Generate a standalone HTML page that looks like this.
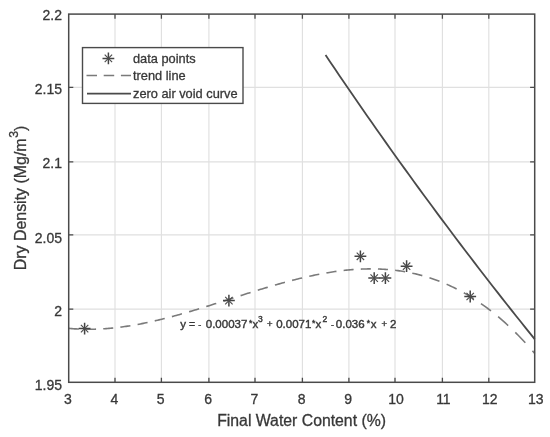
<!DOCTYPE html>
<html><head><meta charset="utf-8"><style>
html,body{margin:0;padding:0;background:#fff;}
svg{display:block;}
text{font-family:"Liberation Sans",sans-serif;fill:#383838;stroke:#383838;stroke-width:0.3px;}
text.eqt{stroke-width:0.4px;}
.m{stroke:#444;stroke-width:1.5;fill:none;}
.md{stroke:#4d4d4d;stroke-width:1.15;fill:none;}
</style></head><body>
<svg width="550" height="437" viewBox="0 0 550 437">
<rect width="550" height="437" fill="#fff"/>
<path d="M115.00 14.10V382.30M161.40 14.10V382.30M208.90 14.10V382.30M255.00 14.10V382.30M302.40 14.10V382.30M348.90 14.10V382.30M395.00 14.10V382.30M442.40 14.10V382.30M488.80 14.10V382.30M68.70 87.40H534.70M68.70 161.80H534.70M68.70 234.80H534.70M68.70 309.10H534.70" stroke="#e0e0e0" stroke-width="1.15" fill="none"/>
<path d="M68.90 328.37 L70.33 328.50 L71.76 328.62 L73.19 328.73 L74.61 328.83 L76.04 328.92 L77.47 329.00 L78.90 329.07M86.07 329.28 L87.50 329.29 L88.93 329.29 L90.36 329.28 L91.78 329.27 L93.21 329.24 L94.64 329.21 L96.07 329.17M103.24 328.82 L104.67 328.73 L106.10 328.62 L107.53 328.51 L108.95 328.39 L110.38 328.27 L111.81 328.13 L113.24 327.99M120.41 327.16 L121.84 326.98 L123.27 326.78 L124.70 326.58 L126.12 326.37 L127.55 326.16 L128.98 325.94 L130.41 325.71M137.58 324.47 L139.01 324.20 L140.44 323.93 L141.87 323.65 L143.29 323.37 L144.72 323.08 L146.15 322.78 L147.58 322.48M154.75 320.90 L156.18 320.56 L157.61 320.23 L159.04 319.89 L160.46 319.54 L161.89 319.19 L163.32 318.84 L164.75 318.48M171.92 316.61 L173.35 316.23 L174.78 315.84 L176.21 315.45 L177.63 315.06 L179.06 314.66 L180.49 314.26 L181.92 313.85M189.09 311.78 L190.52 311.36 L191.95 310.93 L193.38 310.51 L194.80 310.08 L196.23 309.65 L197.66 309.21 L199.09 308.78M206.26 306.56 L207.69 306.12 L209.12 305.67 L210.55 305.22 L211.97 304.77 L213.40 304.32 L214.83 303.86 L216.26 303.41M223.43 301.12 L224.86 300.66 L226.29 300.20 L227.72 299.75 L229.14 299.29 L230.57 298.83 L232.00 298.37 L233.43 297.91M240.60 295.62 L242.03 295.16 L243.46 294.71 L244.89 294.26 L246.31 293.80 L247.74 293.35 L249.17 292.90 L250.60 292.45M257.77 290.22 L259.20 289.78 L260.63 289.34 L262.06 288.91 L263.48 288.47 L264.91 288.04 L266.34 287.61 L267.77 287.19M274.94 285.09 L276.37 284.68 L277.80 284.27 L279.23 283.87 L280.65 283.47 L282.08 283.07 L283.51 282.68 L284.94 282.28M292.11 280.38 L293.54 280.02 L294.97 279.65 L296.40 279.30 L297.82 278.94 L299.25 278.59 L300.68 278.25 L302.11 277.91M309.28 276.27 L310.71 275.96 L312.14 275.66 L313.57 275.36 L314.99 275.06 L316.42 274.77 L317.85 274.49 L319.28 274.21M326.45 272.91 L327.88 272.67 L329.31 272.44 L330.74 272.21 L332.16 271.99 L333.59 271.78 L335.02 271.57 L336.45 271.37M343.62 270.48 L345.05 270.32 L346.48 270.17 L347.91 270.03 L349.33 269.90 L350.76 269.77 L352.19 269.65 L353.62 269.54M360.79 269.12 L362.22 269.06 L363.65 269.01 L365.08 268.97 L366.50 268.93 L367.93 268.91 L369.36 268.89 L370.79 268.89M377.96 269.00 L379.39 269.06 L380.82 269.12 L382.25 269.19 L383.67 269.27 L385.10 269.36 L386.53 269.46 L387.96 269.57M395.13 270.30 L396.56 270.47 L397.99 270.66 L399.42 270.86 L400.84 271.07 L402.27 271.29 L403.70 271.52 L405.13 271.76M412.30 273.16 L413.73 273.47 L415.16 273.80 L416.59 274.14 L418.01 274.49 L419.44 274.85 L420.87 275.23 L422.30 275.62M429.47 277.76 L430.90 278.22 L432.33 278.70 L433.76 279.19 L435.18 279.70 L436.61 280.22 L438.04 280.75 L439.47 281.30M446.64 284.25 L448.07 284.88 L449.50 285.52 L450.93 286.18 L452.35 286.86 L453.78 287.55 L455.21 288.25 L456.64 288.97M463.81 292.80 L465.24 293.61 L466.67 294.43 L468.10 295.27 L469.52 296.13 L470.95 297.00 L472.38 297.89 L473.81 298.79M480.98 303.57 L482.41 304.57 L483.84 305.59 L485.27 306.63 L486.69 307.68 L488.12 308.75 L489.55 309.83 L490.98 310.94M498.15 316.73 L499.58 317.94 L501.01 319.16 L502.44 320.41 L503.86 321.67 L505.29 322.95 L506.72 324.24 L508.15 325.56M515.32 332.44 L516.75 333.86 L518.18 335.31 L519.61 336.77 L521.03 338.26 L522.46 339.76 L523.89 341.28 L525.32 342.82M532.49 350.85 L532.81 351.22 L533.12 351.59 L533.44 351.95 L533.75 352.32 L534.07 352.69 L534.38 353.06 L534.70 353.43" fill="none" stroke="#7a7a7a" stroke-width="1.6"/>
<polyline points="325.56,54.99 330.21,61.90 334.85,68.79 339.50,75.65 344.15,82.47 348.80,89.27 353.44,96.04 358.09,102.78 362.74,109.49 367.39,116.17 372.03,122.83 376.68,129.45 381.33,136.05 385.98,142.62 390.63,149.16 395.27,155.68 399.92,162.17 404.57,168.63 409.22,175.06 413.86,181.47 418.51,187.85 423.16,194.20 427.81,200.53 432.45,206.83 437.10,213.11 441.75,219.36 446.40,225.58 451.04,231.78 455.69,237.96 460.34,244.11 464.99,250.23 469.63,256.33 474.28,262.40 478.93,268.45 483.58,274.48 488.22,280.48 492.87,286.45 497.52,292.40 502.17,298.33 506.81,304.24 511.46,310.12 516.11,315.98 520.76,321.81 525.40,327.62 530.05,333.41 534.70,339.18" fill="none" stroke="#4a4a4a" stroke-width="1.8"/>
<path class="m" d="M78.70 328.60H90.50M84.60 322.70V334.50"/><path class="md" d="M80.90 324.90L88.30 332.30M80.90 332.30L88.30 324.90"/><path class="m" d="M223.00 300.60H234.80M228.90 294.70V306.50"/><path class="md" d="M225.20 296.90L232.60 304.30M225.20 304.30L232.60 296.90"/><path class="m" d="M354.50 256.30H366.30M360.40 250.40V262.20"/><path class="md" d="M356.70 252.60L364.10 260.00M356.70 260.00L364.10 252.60"/><path class="m" d="M368.30 278.10H380.10M374.20 272.20V284.00"/><path class="md" d="M370.50 274.40L377.90 281.80M370.50 281.80L377.90 274.40"/><path class="m" d="M379.50 278.10H391.30M385.40 272.20V284.00"/><path class="md" d="M381.70 274.40L389.10 281.80M381.70 281.80L389.10 274.40"/><path class="m" d="M400.70 266.20H412.50M406.60 260.30V272.10"/><path class="md" d="M402.90 262.50L410.30 269.90M402.90 269.90L410.30 262.50"/><path class="m" d="M464.30 296.50H476.10M470.20 290.60V302.40"/><path class="md" d="M466.50 292.80L473.90 300.20M466.50 300.20L473.90 292.80"/>
<path d="M115.00 382.30v-4.6M115.00 14.10v4.6M161.40 382.30v-4.6M161.40 14.10v4.6M208.90 382.30v-4.6M208.90 14.10v4.6M255.00 382.30v-4.6M255.00 14.10v4.6M302.40 382.30v-4.6M302.40 14.10v4.6M348.90 382.30v-4.6M348.90 14.10v4.6M395.00 382.30v-4.6M395.00 14.10v4.6M442.40 382.30v-4.6M442.40 14.10v4.6M488.80 382.30v-4.6M488.80 14.10v4.6M68.70 87.40h4.6M534.70 87.40h-4.6M68.70 161.80h4.6M534.70 161.80h-4.6M68.70 234.80h4.6M534.70 234.80h-4.6M68.70 309.10h4.6M534.70 309.10h-4.6" stroke="#4a4a4a" stroke-width="1.3" fill="none"/>
<rect x="68.70" y="14.10" width="466.00" height="368.20" fill="none" stroke="#4a4a4a" stroke-width="1.5"/>
<g font-size="14" text-anchor="middle"><text x="68.00" y="404">3</text><text x="114.30" y="404">4</text><text x="160.70" y="404">5</text><text x="208.20" y="404">6</text><text x="254.30" y="404">7</text><text x="301.70" y="404">8</text><text x="348.20" y="404">9</text><text x="396.00" y="404">10</text><text x="443.40" y="404">11</text><text x="489.80" y="404">12</text><text x="535.70" y="404">13</text></g>
<g font-size="14" text-anchor="end"><text x="62.0" y="19.60">2.2</text><text x="62.0" y="94.20">2.15</text><text x="62.0" y="168.40">2.1</text><text x="62.0" y="242.50">2.05</text><text x="62.0" y="315.90">2</text><text x="62.0" y="389.50">1.95</text></g>
<text x="301.6" y="425.7" font-size="15.8" text-anchor="middle">Final Water Content (%)</text>
<text transform="translate(25.9,270.3) rotate(-90)" font-size="15.95">Dry Density (Mg/m<tspan dy="-7.7" dx="0.5" font-size="12.3">3</tspan><tspan dy="7.7">)</tspan></text>
<rect x="82.5" y="47.6" width="160.5" height="55.8" fill="#fff" stroke="#4a4a4a" stroke-width="1.4"/>
<path class="m" d="M102.50 58.40H114.30M108.40 52.50V64.30"/><path class="md" d="M104.70 54.70L112.10 62.10M104.70 62.10L112.10 54.70"/>
<path d="M86.5 75.5H97M103.7 75.5H114.2M120.9 75.5H131" stroke="#7a7a7a" stroke-width="1.6"/>
<path d="M87 93.6H131" stroke="#4a4a4a" stroke-width="1.8"/>
<g font-size="12.8"><text x="133" y="62.7">data points</text><text x="133" y="80.0">trend line</text><text x="133" y="98.4">zero air void curve</text></g>
<text class="eqt"><tspan x="180.17" y="327.80" font-size="11.5">y</tspan><tspan x="189.09" y="328.30" font-size="10.5">=</tspan><tspan x="198.20" y="328.20" font-size="9">-</tspan><tspan x="205.75" y="327.80" font-size="11.5">0.00037</tspan><tspan x="248.96" y="326.10" font-size="8.5">*</tspan><tspan x="252.47" y="327.80" font-size="11.5">x</tspan><tspan x="258.08" y="321.80" font-size="8.5">3</tspan><tspan x="266.94" y="327.40" font-size="9.5">+</tspan><tspan x="276.15" y="327.80" font-size="11.5">0.0071</tspan><tspan x="311.96" y="326.10" font-size="8.5">*</tspan><tspan x="315.47" y="327.80" font-size="11.5">x</tspan><tspan x="322.47" y="321.80" font-size="8.5">2</tspan><tspan x="331.10" y="328.20" font-size="9">-</tspan><tspan x="335.85" y="327.80" font-size="11.5">0.036</tspan><tspan x="366.76" y="326.10" font-size="8.5">*</tspan><tspan x="370.67" y="327.80" font-size="11.5">x</tspan><tspan x="381.44" y="327.40" font-size="9.5">+</tspan><tspan x="389.92" y="327.80" font-size="11.5">2</tspan></text>
</svg>
</body></html>
